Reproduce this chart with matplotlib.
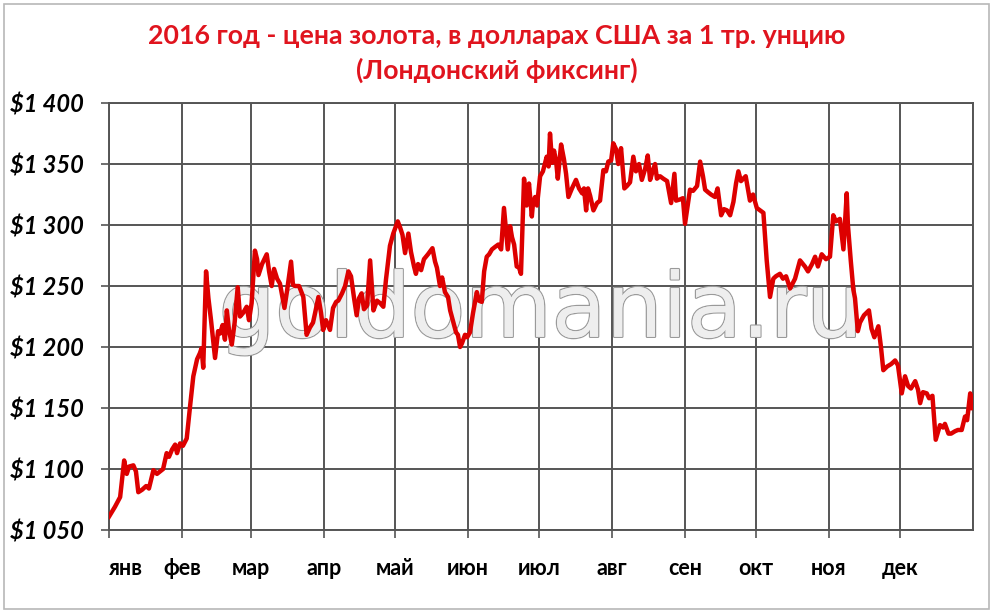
import matplotlib
matplotlib.use("Agg")
import matplotlib.pyplot as plt
import matplotlib.patheffects as pe
from matplotlib.patches import Rectangle

# day of year (0 = 1 Jan) and London PM fix, USD
days = [0, 2.5, 4.7, 6.4, 7.5, 8.5, 10.3, 11.4, 12.4, 14.0, 15.7, 16.9, 18.8, 20.3, 21.6, 22.9,
        24.4, 25.4, 26.7, 28.0, 28.8, 30.1, 31.3, 32.9, 34.3, 35.7, 37.3, 38.5, 39.2, 39.9, 41.1,
        42.1, 43.2, 44.9, 46.2, 47.0, 48.1, 49.1, 49.9, 50.8, 52.0, 53.2, 54.5, 55.5, 56.8, 58.3,
        59.3, 60.4, 61.8, 62.7, 63.3, 64.8, 66.8, 67.8, 68.9, 69.9, 71.2, 72.4, 74.3, 75.4, 77.1,
        77.9, 78.8, 80.5, 82.3, 83.7, 85.1, 86.4, 87.3, 88.7, 89.8, 90.7, 91.9, 93.6, 94.9, 96.2,
        97.1, 98.7, 100.0, 101.4, 102.5, 103.8, 104.9, 105.9, 107.0, 108.0, 109.3, 110.6, 112.0,
        113.5, 114.8, 116.2, 117.3, 119.0, 120.4, 122.3, 123.3, 124.3, 125.4, 126.8, 127.9, 129.2,
        130.0, 130.9, 132.2, 133.4, 135.1, 137.0, 138.1, 138.9, 140.2, 141.1, 142.3, 143.6, 144.5,
        145.9, 147.0, 147.8, 148.7, 149.5, 150.8, 151.7, 152.9, 154.2, 155.8, 156.7, 157.9, 158.9,
        160.0, 161.0, 162.2, 163.5, 164.9, 166.1, 167.3, 168.2, 168.9, 169.9, 170.7, 171.6, 172.7,
        173.7, 174.5, 175.8, 176.9, 177.9, 179.1, 179.6, 180.5, 181.3, 182.6, 183.8, 185.4, 186.2,
        186.8, 187.7, 188.5, 189.4, 190.1, 191.5, 192.7, 193.6, 194.6, 196.1, 197.8, 199.1, 200.4,
        201.2, 202.1, 202.9, 203.8, 205.2, 206.7, 208.0, 209.4, 210.5, 211.5, 212.7, 213.6, 214.8,
        215.7, 216.9, 218.3, 219.4, 220.7, 222.1, 223.2, 224.5, 225.7, 227.1, 228.2, 229.2, 230.4,
        231.3, 232.1, 233.4, 234.8, 236.4, 238.1, 239.5, 240.2, 241.9, 243.1, 244.0, 245.3, 246.1,
        247.4, 249.1, 250.4, 251.6, 252.5, 253.7, 255.0, 256.7, 257.8, 259.3, 260.5, 261.8, 263.1,
        264.5, 265.6, 266.6, 267.7, 269.7, 271.5, 272.8, 274.4, 275.8, 277.2, 278.6, 280.0, 281.4,
        282.5, 284.2, 285.5, 286.8, 288.5, 290.6, 292.7, 294.8, 296.1, 297.8, 299.1, 300.3, 301.9,
        303.7, 305.4, 306.8, 307.9, 309.6, 311.1, 312.5, 313.0, 314.2, 315.3, 316.0, 317.2, 318.1,
        319.8, 321.9, 323.0, 324.2, 325.9, 327.0, 328.0, 329.6, 331.3, 333.0, 334.2, 335.8, 337.2,
        338.5, 339.7, 341.5, 342.7, 343.6, 344.8, 346.4, 347.4, 348.8, 350.2, 352.0, 353.3, 354.1,
        355.6, 356.7, 358.4, 359.6, 361.2, 362.6, 363.5, 364.8, 365.8]

prices = [1061, 1069, 1077, 1107, 1096, 1102, 1103, 1098, 1081, 1083, 1086, 1084, 1099, 1096, 1098, 1100,
          1113, 1110, 1116, 1120, 1113, 1121, 1119, 1125, 1151, 1176, 1190, 1195, 1199, 1183, 1262,
          1240, 1222, 1191, 1213, 1211, 1218, 1206, 1230, 1214, 1202, 1220, 1249, 1225, 1228, 1233,
          1222, 1236, 1279, 1272, 1259, 1268, 1276, 1262, 1250, 1264, 1256, 1252, 1232, 1246, 1270,
          1251, 1250, 1250, 1241, 1210, 1216, 1220, 1228, 1241, 1228, 1214, 1222, 1214, 1232, 1237,
          1238, 1244, 1250, 1262, 1258, 1240, 1226, 1240, 1244, 1231, 1234, 1271, 1230,
          1238, 1236, 1233, 1255, 1283, 1293, 1303, 1298, 1292, 1277, 1293, 1278, 1266,
          1260, 1268, 1263, 1272, 1276, 1281, 1270, 1265, 1250, 1257, 1245, 1241, 1230,
          1220, 1212, 1210, 1200, 1203, 1210, 1208, 1212, 1228, 1245, 1238, 1237, 1262,
          1274, 1276, 1280, 1282, 1284, 1280, 1314, 1295, 1280, 1299, 1290, 1284, 1266,
          1265, 1260, 1338, 1316, 1334, 1307, 1318, 1323, 1316, 1340, 1344, 1356, 1348,
          1375, 1351, 1361, 1352, 1338, 1366, 1354, 1342, 1323, 1330, 1337, 1330, 1326,
          1330, 1312, 1330, 1324, 1312, 1318, 1320, 1345, 1344, 1352, 1353, 1367, 1362,
          1350, 1363, 1330, 1332, 1335, 1356, 1344, 1350, 1337, 1346, 1357, 1337, 1345,
          1350, 1338, 1340, 1338, 1336, 1318, 1342, 1320, 1321, 1322, 1301, 1318, 1329,
          1328, 1332, 1352, 1340, 1329, 1327, 1325, 1323, 1330, 1308, 1313, 1312, 1308,
          1319, 1334, 1344, 1336, 1340, 1320, 1325, 1314, 1312, 1310, 1271, 1241, 1256,
          1258, 1260, 1256, 1258, 1248, 1256, 1271, 1266, 1262, 1268, 1274, 1266, 1276,
          1272, 1274, 1308, 1303, 1305, 1280, 1326, 1300, 1271, 1247, 1240, 1213, 1220,
          1226, 1230, 1215, 1208, 1217, 1200, 1181, 1184, 1186, 1189, 1185, 1162, 1176,
          1168, 1166, 1172, 1165, 1154, 1163, 1162, 1158, 1160, 1124, 1136, 1134, 1137,
          1129, 1129, 1131, 1132, 1132, 1143, 1140, 1162, 1150]

month_starts = [0, 31, 60, 91, 121, 152, 182, 213, 244, 274, 305, 335, 366]
month_labels = ["янв", "фев", "мар", "апр", "май", "июн", "июл", "авг", "сен", "окт", "ноя", "дек"]
y_ticks = [1050, 1100, 1150, 1200, 1250, 1300, 1350, 1400]
y_labels = ["\\$1 050", "\\$1 100", "\\$1 150", "\\$1 200", "\\$1 250", "\\$1 300", "\\$1 350", "\\$1 400"]

title = "2016 год - цена золота, в долларах США за 1 тр. унцию\n(Лондонский фиксинг)"

plt.rcParams['font.family'] = ['Lato', 'DejaVu Sans']

fig = plt.figure(figsize=(9.94, 6.14), dpi=100)
fig.patch.set_facecolor('white')
fig.patches.append(Rectangle((0.004, 0.008), 0.991, 0.985, transform=fig.transFigure,
                             fill=False, edgecolor='#b8b8b8', linewidth=1.2))

ax = fig.add_axes([0.1097, 0.1368, 0.8692, 0.6954])
ax.set_xlim(0, 366)
ax.set_ylim(1050, 1400)

grid_c = '#555555'
for m in month_starts:
    ax.axvline(m, color=grid_c, linewidth=1.4, zorder=1)
for v in y_ticks:
    ax.axhline(v, color=grid_c, linewidth=1.4, zorder=1)
for s in ax.spines.values():
    s.set_color(grid_c)
    s.set_linewidth(1.4)

ax.text(0.5, 0.51, "goldomania.ru", transform=ax.transAxes, ha='center', va='center',
        fontsize=64, family='DejaVu Sans', color='#eeeeee', zorder=2,
        path_effects=[pe.withStroke(linewidth=1.8, foreground='#9a9a9a'), pe.Normal()])

ax.plot(days, prices, color='#dd0000', linewidth=3.2, zorder=3, solid_joinstyle='round')

ax.set_xticks(month_starts[:-1])
ax.set_xticklabels(month_labels, fontsize=15.5, fontweight='bold')
ax.tick_params(axis='x', length=6, width=1.2, color=grid_c, pad=14, direction='out')
xl = ax.get_xticklabels()
xl[0].set_horizontalalignment('left')
ax.set_yticks(y_ticks)
ax.set_yticklabels(y_labels, fontsize=17, fontstyle='italic', fontweight='bold')
ax.tick_params(axis='y', length=6, width=1.2, color=grid_c, pad=12, direction='out')

fig.text(0.5, 0.913, title, ha='center', va='center', fontsize=19.3, fontweight='bold',
         color='#e0141e', linespacing=1.45)

fig.savefig('out.png', dpi=100)
